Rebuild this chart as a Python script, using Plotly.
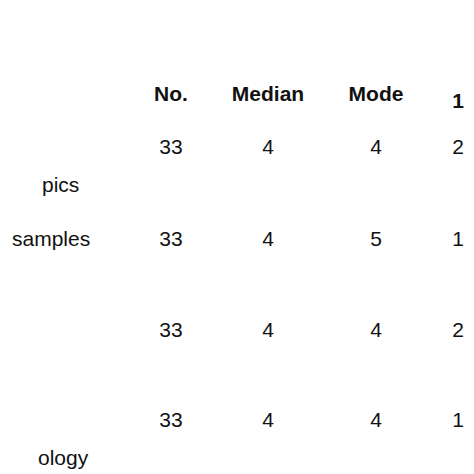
import plotly.graph_objects as go

headers = ["No.", "Median", "Mode", "1"]
row_labels = [["ents with", "pics"], ["samples", "n"], ["orial for", ""], ["orial for", "ology"]]
no_vals = ["33", "33", "33", "33"]
median_vals = ["4", "4", "4", "4"]
mode_vals = ["4", "5", "4", "4"]
col1_vals = ["2", "1", "2", "1"]

col_x = [163, 260, 368, 450]
row_y = [141, 233, 324, 414]
font = dict(family="Liberation Sans, Arial", size=21, color="#111")

fig = go.Figure()
fig.add_trace(go.Scatter(x=col_x, y=[88, 88, 88, 95], mode="text",
                         text=["<b>%s</b>" % h for h in headers], textfont=font, hoverinfo="skip"))
for col, vals in zip(col_x, [no_vals, median_vals, mode_vals, col1_vals]):
    fig.add_trace(go.Scatter(x=[col] * len(vals), y=row_y, mode="text", text=vals,
                             textfont=font, hoverinfo="skip"))
lab_x1 = [-8, 4, -2, -2]
lab_x2 = [34, -8, 0, 30]
for i, (l1, l2) in enumerate(row_labels):
    fig.add_trace(go.Scatter(x=[lab_x1[i], lab_x2[i]], y=[row_y[i], row_y[i] + 38],
                             mode="text", text=[l1, l2], textposition="middle right",
                             textfont=font, hoverinfo="skip", cliponaxis=False))

fig.update_layout(width=474, height=474, margin=dict(l=0, r=0, t=0, b=0),
                  paper_bgcolor="white", plot_bgcolor="white", showlegend=False,
                  xaxis=dict(range=[0, 474], visible=False),
                  yaxis=dict(range=[474, 0], visible=False))
fig.write_html("out.html")
